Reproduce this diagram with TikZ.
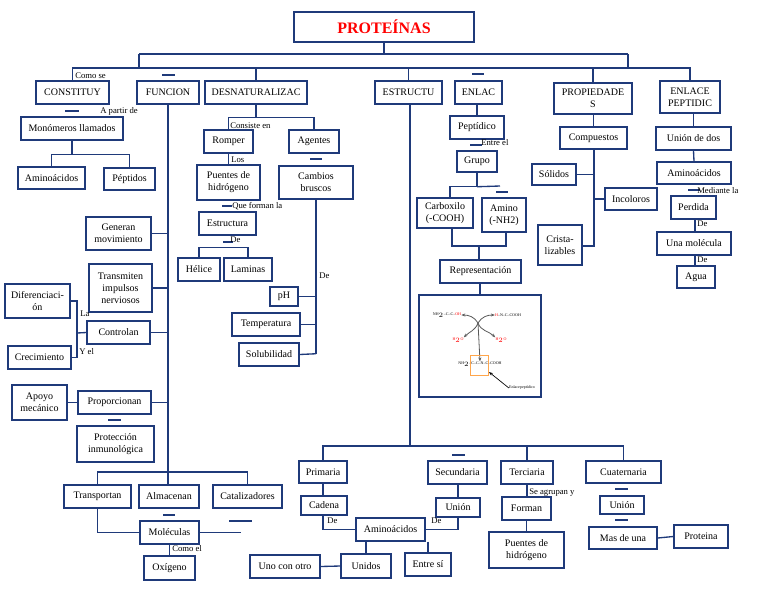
\documentclass[tikz,border=0pt]{standalone}
\usepackage{fontspec}
\setmainfont{Liberation Serif}
\usetikzlibrary{arrows.meta}
\definecolor{ln}{HTML}{1F3A7A}
\tikzset{
 bx/.style={draw=ln,line width=1.1pt,fill=white,align=center,inner sep=1pt,font=\fontsize{7.5}{9}\selectfont},
 lb/.style={inner sep=0pt,anchor=west,font=\fontsize{6.5}{7}\selectfont},
 cn/.style={draw=ln,line width=1pt},
 ch/.style={inner sep=0pt,font=\fontsize{3}{3.5}\selectfont}
}
\newcommand\B[6]{\node[bx,minimum width={(#4-#2)*0.75pt},minimum height={(#5-#3)*0.75pt}] (#1) at ({(#2+#4)/2},{(#3+#5)/2}) {#6};}
\newcommand\Lb[4]{\node[lb] (#1) at (#2,#3) {#4};}
\newcommand\Ds[3]{\draw[cn] (#1,#3) -- (#2,#3);}
\begin{document}
\begin{tikzpicture}[x=0.75pt,y=-0.75pt]
\useasboundingbox[fill=white] (0,0) rectangle (768,594);
% top bus
\coordinate (t1) at (384,54);
\coordinate (t2) at (139,54);
\coordinate (t3) at (628,54);
\draw[cn] (139,54) -- (628,54);
\draw[cn] (139,54) -- (139,68);
\draw[cn] (628,54) -- (628,68);
\draw[cn] (72,68) -- (691,68);
% main boxes
\B{prot}{294}{12}{474}{42}{\fontsize{12}{14}\selectfont\bfseries\color{red}PROTEÍNAS}
\draw[cn] (prot.south) -- (t1);
\B{cons}{36}{81}{109}{104}{CONSTITUY}
\B{func}{137}{81}{199}{104}{FUNCION}
\B{desn}{205}{81}{307}{104}{DESNATURALIZAC}
\B{estr}{375}{81}{442}{104}{ESTRUCTU}
\B{enl}{455}{81}{502}{104}{ENLAC}
\B{prop}{554}{83}{632}{114}{PROPIEDADE\\S}
\B{enlp}{660}{81}{720}{113}{ENLACE\\PEPTIDIC}
\draw[cn] (cons.north) -- ++(0,-13);
\draw[cn] (desn.north) -- ++(0,-13);
\draw[cn] (estr.north) -- ++(0,-13);
\draw[cn] (prop.north) -- ++(0,-15);
\draw[cn] (enlp.north) -- ++(0,-13);
\Ds{162}{175}{75}
\Ds{472}{484}{74}
\Lb{l1}{75}{76}{Como se}
\Lb{l2}{100}{111}{A partir de}
\Ds{65}{79}{111}
% constituyen
\B{mono}{21}{117}{123}{140}{Monómeros llamados}
\B{amin1}{18}{167}{85}{189}{Aminoácidos}
\B{pept}{104}{168}{155}{190}{Péptidos}
\draw[cn] (mono.south) -- ++(0,14) coordinate (m1);
\draw[cn] (amin1.north) |- (m1) -| (pept.north);
% funciones
\B{gen}{86}{217}{151}{250}{Generan\\movimiento}
\B{trans}{89}{264}{152}{312}{Transmiten\\impulsos\\nerviosos}
\B{contr}{87}{321}{150}{344}{Controlan}
\B{propo}{78}{391}{151}{414}{Proporcionan}
\B{prot2}{77}{426}{154}{462}{Protección\\inmunológica}
\B{dif}{5}{284}{70}{318}{Diferenciaci-\\ón}
\B{crec}{8}{346}{71}{369}{Crecimiento}
\B{apoyo}{12}{385}{67}{420}{Apoyo\\mecánico}
\B{transp}{64}{485}{131}{508}{Transportan}
\B{alm}{139}{485}{199}{508}{Almacenan}
\B{cat}{213}{485}{282}{508}{Catalizadores}
\B{mol}{140}{521}{199}{544}{Moléculas}
\B{oxi}{144}{556}{195}{580}{Oxígeno}
\coordinate (fb) at (168,472);
\draw[cn] (func.south -| fb) -- (fb);
\draw[cn] (gen.east) -- (gen.east -| fb);
\draw[cn] (trans.east) -- (trans.east -| fb);
\draw[cn] (contr.east) -- (contr.east -| fb);
\draw[cn] (propo.east) -- (propo.east -| fb);
\draw[cn] (transp.north) |- (fb) -| (cat.north);
\draw[cn] (fb) -- (alm.north -| fb);
\coordinate (br) at (77,333);
\draw[cn] (dif.east) -| (br) |- (crec.east);
\draw[cn] (br) -- (contr.west);
\Lb{l3}{80}{314}{La}
\Lb{l4}{79}{352}{Y el}
\draw[cn] (apoyo.east) -- (propo.west);
\Ds{108}{121}{420}
\draw[cn] (transp.south) |- (mol.west);
\draw[cn] (mol.east) -- ++(41,0);
\Ds{163}{175}{515}
\Ds{229}{252}{521}
\draw[cn] (mol.south) -- (oxi.north);
\Lb{l5}{172}{549}{Como el}
% desnaturalizacion
\B{romp}{204}{130}{253}{153}{Romper}
\B{agen}{289}{130}{339}{153}{Agentes}
\B{puen}{197}{165}{260}{200}{Puentes de\\hidrógeno}
\B{cam}{279}{166}{353}{199}{Cambios\\bruscos}
\B{estc}{199}{212}{256}{235}{Estructura}
\B{hel}{178}{258}{220}{281}{Hélice}
\B{lam}{224}{258}{272}{281}{Laminas}
\B{ph}{270}{287}{298}{306}{pH}
\B{temp}{232}{313}{300}{336}{Temperatura}
\B{sol}{239}{343}{299}{366}{Solubilidad}
\draw[cn] (desn.south) -- ++(0,13) coordinate (d1);
\draw[cn] (romp.north) |- (d1) -| (agen.north);
\Lb{l6}{230}{126}{Consiste en}
\draw[cn] (romp.south -| puen.north) -- (puen.north);
\Lb{l7}{231}{160}{Los}
\Ds{222}{232}{206}
\Lb{l8}{232}{206}{Que forman la}
\Ds{223}{233}{242}
\Lb{l9}{230}{240}{De}
\draw[cn] (hel.north) |- ++(24,-10) coordinate (h1) -| (lam.north);
\Ds{310}{322}{159}
\draw[cn] (cam.south) -- ++(0,154) coordinate (c1);
\draw[cn] (ph.east) -- (ph.east -| c1);
\draw[cn] (temp.east) -- (temp.east -| c1);
\draw[cn] (sol.east) -- (c1);
\Lb{l10}{319}{276}{De}
% estructura
\B{prim}{299}{461}{347}{483}{Primaria}
\B{sec}{428}{461}{487}{484}{Secundaria}
\B{ter}{501}{461}{553}{484}{Terciaria}
\B{cua}{586}{461}{661}{483}{Cuaternaria}
\B{cad}{301}{496}{347}{515}{Cadena}
\B{uni1}{436}{498}{480}{517}{Unión}
\B{amin2}{356}{518}{425}{541}{Aminoácidos}
\B{unid}{341}{554}{391}{578}{Unidos}
\B{uno}{250}{555}{320}{578}{Uno con otro}
\B{entre}{405}{553}{451}{576}{Entre sí}
\B{form}{502}{497}{551}{520}{Forman}
\B{puen2}{489}{532}{564}{568}{Puentes de\\hidrógeno}
\B{uni2}{600}{496}{644}{514}{Unión}
\B{mas}{589}{527}{657}{549}{Mas de una}
\B{prot3}{674}{525}{728}{548}{Proteina}
\coordinate (e1) at (410,446);
\draw[cn] (estr.south -| e1) -- (e1);
\draw[cn] (prim.north) |- (e1) -| (cua.north);
\draw[cn] (ter.north) -- (ter.north |- e1);
\Ds{452}{465}{455}
\draw[cn] (prim.south) -- (cad.north -| prim.south);
\draw[cn] (cad.south -| prim.south) |- (amin2.west);
\Lb{l11}{327}{521}{De}
\draw[cn] (sec.south -| uni1.north) -- (uni1.north);
\draw[cn] (uni1.south) |- (amin2.east);
\Lb{l12}{431}{521}{De}
\draw[cn] (amin2.south -| unid.north) -- (unid.north);
\draw[cn] (uno.east) -- (unid.west);
\draw[cn] (amin2.south -| entre.north) -- (entre.north);
\draw[cn] (ter.south) -- (form.north -| ter.south);
\Lb{l13}{529}{493}{Se agrupan y}
\draw[cn] (form.south) -- (puen2.north);
\Ds{615}{628}{489}
\Ds{615}{628}{520}
\draw[cn] (mas.east) -- (prot3.west);
% enlace
\B{pepd}{450}{116}{504}{139}{Peptídico}
\B{grupo}{457}{151}{497}{172}{Grupo}
\B{carb}{417}{198}{473}{228}{Carboxilo\\(-COOH)}
\B{amino}{482}{198}{526}{232}{Amino\\(-NH2)}
\B{repr}{440}{260}{521}{283}{Representación}
\draw[cn] (enl.south -| pepd.north) -- (pepd.north);
\Ds{470}{482}{145}
\Lb{l14}{481}{143}{Entre el}
\draw[cn] (grupo.south) -- ++(0,14) coordinate (g1);
\draw[cn] (g1) -| (carb.north -| 450,0);
\draw[cn] (g1) -- (500,186);
\Ds{496}{508}{192}
\draw[cn] (carb.south -| 452,0) |- (506,246) -- (amino.south -| 506,0);
\draw[cn] (479,246) -- (repr.north -| 479,0);
\node[draw=ln,line width=1.4pt,minimum width={122*0.75pt},minimum height={102*0.75pt},inner sep=0] (img) at (480,346) {};
\draw[cn] (repr.south -| img.north) -- (img.north);
% chemistry sketch
\node[ch] (r1) at (447,315) {NH$_2$–C–C–\textcolor{red}{OH}};
\node[ch] (r2) at (508,315) {\textcolor{red}{H}–N–C–COOH};
\node[ch,text=red] (w1) at (458,340) {H$_2$O};
\node[ch,text=red] (w2) at (501,340) {H$_2$O};
\node[ch] (pr) at (480,364) {NH$_2$–C–C–N–C–COOH};
\node[ch] (ep) at (522,388) {Enlace\\[-1pt]peptídico};
\coordinate (cc) at (478,323);
\draw[gray!70!black,line width=0.6pt,-{Stealth[length=3pt]}] (cc) to[out=120,in=0] (r1.east);
\draw[gray!70!black,line width=0.6pt,-{Stealth[length=3pt]}] (cc) to[out=60,in=180] (r2.west);
\draw[gray!70!black,line width=0.6pt,-{Stealth[length=3pt]}] (cc) to[out=-110,in=45] (w1.north east);
\draw[gray!70!black,line width=0.6pt,-{Stealth[length=3pt]}] (cc) to[out=-70,in=135] (w2.north west);
\draw[gray!70!black,line width=0.6pt,-{Stealth[length=3pt]}] (cc) -- (pr.north);
\draw[orange!70,line width=0.6pt] (470,355) rectangle (488,375);
\draw[black,line width=0.5pt,-{Stealth[length=3pt]}] (ep.west) -- (489,372);
% propiedades
\B{comp}{560}{127}{627}{149}{Compuestos}
\B{sol2}{532}{164}{576}{185}{Sólidos}
\B{inc}{605}{188}{657}{210}{Incoloros}
\B{cris}{538}{225}{582}{265}{Crista-\\lizables}
\draw[cn] (prop.south -| comp.north) -- (comp.north);
\coordinate (p1) at (594,246);
\draw[cn] (comp.south -| p1) -- (p1) -- (cris.east |- p1);
\draw[cn] (sol2.east) -- (sol2.east -| p1);
\draw[cn] (inc.west) -- (inc.west -| p1);
% enlace peptidico
\B{udos}{656}{127}{731}{150}{Unión de dos}
\B{amin3}{657}{162}{731}{184}{Aminoácidos}
\B{perd}{671}{196}{716}{219}{Perdida}
\B{umol}{657}{232}{731}{255}{Una molécula}
\B{agua}{677}{266}{715}{288}{Agua}
\draw[cn] (enlp.south -| udos.north) -- (udos.north);
\draw[cn] (udos.south) -- (amin3.north);
\Ds{688}{700}{190}
\Lb{l15}{697}{191}{Mediante la}
\draw[cn] (perd.south -| 695,0) -- (umol.north -| 695,0);
\Lb{l16}{697}{224}{De}
\draw[cn] (umol.south -| 695,0) -- (agua.north -| 695,0);
\Lb{l17}{697}{260}{De}
\end{tikzpicture}
\end{document}
